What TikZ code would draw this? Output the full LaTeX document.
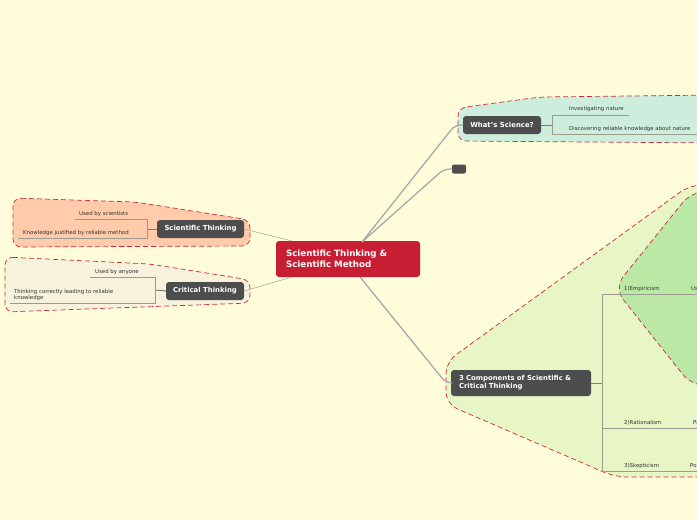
\documentclass[tikz,border=0pt]{standalone}
\usepackage{fontspec}
\setmainfont{DejaVu Sans}
\definecolor{bg}{HTML}{FFFDD9}
\definecolor{rootred}{HTML}{C81E34}
\definecolor{dark}{HTML}{4D4D4D}
\definecolor{tealf}{HTML}{CDEEDD}
\definecolor{salmon}{HTML}{FFCBAA}
\definecolor{beige}{HTML}{F6F2DC}
\definecolor{lgreen}{HTML}{E8F5C4}
\definecolor{igreen}{HTML}{BCE8A6}
\definecolor{redd}{HTML}{D0283C}
\definecolor{conncol}{HTML}{A8A8A8}
\definecolor{brcol}{HTML}{9C9C8C}
\definecolor{txt}{HTML}{333333}
\begin{document}
\begin{tikzpicture}[x=1pt,y=-1pt,
  rootn/.style={fill=rootred, rounded corners=3pt, text=white, font=\fontsize{8.7}{10.5}\bfseries\selectfont, align=left},
  topic/.style={fill=dark, rounded corners=3pt, text=white, font=\fontsize{6.9}{8.2}\bfseries\selectfont, inner sep=0pt},
  lbl/.style={anchor=west, inner sep=0pt, text=txt, font=\fontsize{5.4}{6.4}\selectfont, align=left},
  conn/.style={draw=conncol, line width=1.3pt, rounded corners=6pt},
  thinconn/.style={draw=conncol, line width=0.6pt},
  branch/.style={draw=brcol, line width=0.6pt},
  stem/.style={draw=brcol!80!black, line width=1pt},
  bound/.style={draw=redd, dash pattern=on 5pt off 3pt, line width=0.7pt, rounded corners=8pt}]
\useasboundingbox (0,0) rectangle (697,520);
\fill[bg] (0,0) rectangle (697,520);
\begin{scope}
\clip (0,0) rectangle (697,520);
% boundaries
\path[bound, fill=tealf] (720,95) -- (540,97) -- (458,108) -- (458,141) -- (720,143);
\path[bound, fill=salmon] (13,198) -- (135,202) -- (250,220) -- (250,246) -- (13,247) -- cycle;
\path[bound, fill=beige] (5,257) -- (150,264) -- (250,280) -- (250,303) -- (5,312) -- cycle;
\path[bound, fill=lgreen, rounded corners=12pt] (720,185) -- (690,185) -- (446,362) -- (446,404) -- (615,477) -- (720,477);
\path[bound, fill=igreen, rounded corners=15pt] (720,191) -- (692,191) -- (614,288) -- (692,386) -- (720,386);

% nodes
\node[rootn, text width=124pt, minimum height=36pt, inner xsep=10pt, inner ysep=0pt] (root) at (348,259) {Scientific Thinking \&\\Scientific Method};
\node[topic, minimum width=78pt, minimum height=18pt] (ws) at (502,125) {What's Science?};
\node[topic, minimum width=14pt, minimum height=9pt, rounded corners=2pt] (sn) at (459,169) {};
\node[topic, minimum width=87pt, minimum height=18pt] (st) at (200.5,229) {Scientific Thinking};
\node[topic, minimum width=78pt, minimum height=18pt] (ct) at (205,291) {Critical Thinking};
\node[topic, text width=124pt, minimum height=26pt, inner xsep=8pt, align=left] (tc) at (521,383) {3 Components of Scientific \&\\Critical Thinking};

% labels
\node[lbl] (l1) at (569,109) {Investigating nature};
\node[lbl] (l2) at (569,129) {Discovering reliable knowledge about nature};
\node[lbl] (l3) at (79,214) {Used by scientists};
\node[lbl] (l4) at (23,233) {Knowledge justified by reliable method};
\node[lbl] (l5) at (95,272) {Used by anyone};
\node[lbl] (l6) at (14,295) {Thinking correctly leading to reliable\\knowledge};
\node[lbl] (l7) at (624,289) {1)Empiricism};
\node[lbl] (l8) at (691,289) {Us};
\node[lbl] (l9) at (624,423) {2)Rationalism};
\node[lbl] (l10) at (693,423) {Pr};
\node[lbl] (l11) at (624,466) {3)Skepticism};
\node[lbl] (l12) at (690,466) {Po};

% root connectors
\coordinate (r1) at (362,242);
\coordinate (r2) at (360,277);
\draw[conn] (r1) -- (455,125) -- (ws.west);
\draw[conn] (r1) -- (444,169) -- (sn.west);
\draw[conn] (r2) -- (446,383) -- (tc.west);
\coordinate (r3) at (292,241);
\coordinate (r4) at (292,277);
\draw[thinconn] (st.east) -- (r3);
\draw[thinconn] (ct.east) -- (r4);

% branches: What's Science
\coordinate (wsj) at (552,125);
\draw[stem] (ws.east) -- (wsj);
\draw[branch] (629,115) -- (552,115) -- (552,134) -- (720,134);
% Scientific Thinking
\coordinate (stj) at (147,229);
\draw[stem] (st.west) -- (stj);
\draw[branch] (75,219) -- (147,219) -- (147,238) -- (18,238);
% Critical Thinking
\coordinate (ctj) at (155,290);
\draw[stem] (ct.west) -- (ctj);
\draw[branch] (90,277) -- (155,277) -- (155,303) -- (10,303);
% 3 Components
\coordinate (tcj) at (602,383);
\draw[stem] (tc.east) -- (tcj);
\draw[branch] (720,294) -- (602,294) -- (602,471) -- (720,471);
\draw[branch] (602,428) -- (720,428);
\end{scope}
\end{tikzpicture}
\end{document}
